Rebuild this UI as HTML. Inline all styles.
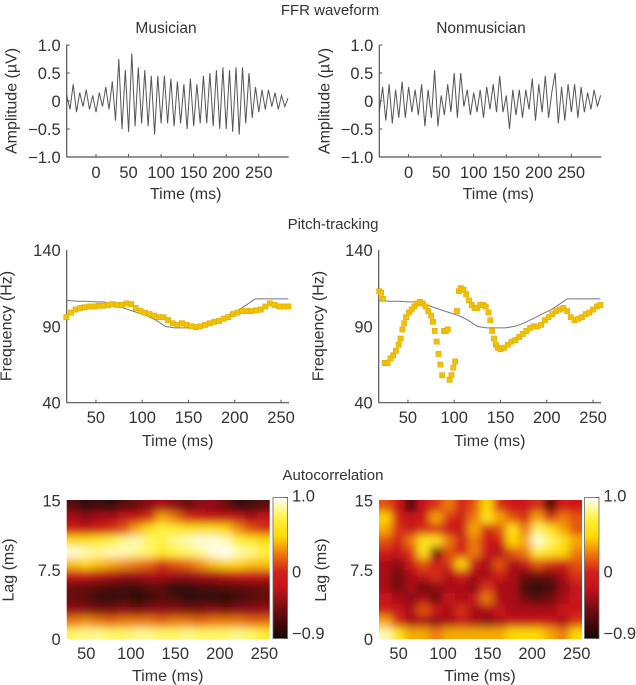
<!DOCTYPE html>
<html><head><meta charset="utf-8">
<style>
html,body{margin:0;padding:0;background:#fff;}
svg{display:block;font-family:"Liberation Sans",Arial,sans-serif;}
text{fill:#333;}
</style></head>
<body>
<svg id="fig" width="636" height="685" viewBox="0 0 636 685" xmlns="http://www.w3.org/2000/svg">
<defs>
<filter id="blur" x="-10%" y="-10%" width="120%" height="120%"><feGaussianBlur stdDeviation="4.2"/></filter>
<clipPath id="clipL"><rect x="66.7" y="500" width="203" height="139"/></clipPath>
<clipPath id="clipR"><rect x="379" y="500" width="203" height="139"/></clipPath>
<linearGradient id="cbar" x1="0" y1="1" x2="0" y2="0">
<stop offset="0" stop-color="#150605"/><stop offset="0.2" stop-color="#6e0c0e"/><stop offset="0.37" stop-color="#c8141a"/><stop offset="0.47" stop-color="#d0201a"/><stop offset="0.6" stop-color="#ee7a0c"/><stop offset="0.72" stop-color="#ffd800"/><stop offset="0.85" stop-color="#fff040"/><stop offset="1" stop-color="#ffffff"/>
</linearGradient>
</defs>
<text x="330" y="15" font-size="15" text-anchor="middle">FFR waveform</text>
<text x="166" y="33" font-size="15.5" text-anchor="middle">Musician</text>
<text x="481" y="33" font-size="15.5" text-anchor="middle">Nonmusician</text>
<text x="333" y="229" font-size="15" text-anchor="middle">Pitch-tracking</text>
<text x="333" y="480" font-size="15" text-anchor="middle">Autocorrelation</text>
<g id="root"></g>
</svg>
<script>
// ---- FFR waveform data (extrema every 5 ms starting at -45 ms)
const waveStart = -45, waveStep = 5;
const musicianWave = [0.1,-0.15,0.3,-0.2,0.15,-0.1,0.2,-0.15,0.1,-0.2,0.15,-0.1,0.25,-0.15,
 0.35,-0.35,0.75,-0.5,0.55,-0.55,0.85,-0.45,0.6,-0.4,0.55,-0.45,0.45,-0.6,0.45,-0.4,0.45,-0.4,0.4,-0.45,0.35,-0.4,0.3,-0.5,0.4,-0.45,0.3,-0.4,0.45,-0.4,0.5,-0.45,0.55,-0.5,0.6,-0.5,0.55,-0.55,0.6,-0.6,0.6,-0.4,0.5,-0.3,0.25,-0.2,0.2,-0.15,0.2,-0.1,0.15,-0.15,0.1,-0.1,0.05];
const nonmusicianWave = [-0.2,0.25,-0.35,0.3,-0.4,0.2,-0.3,0.35,-0.3,0.25,-0.2,0.2,-0.25,0.3,-0.45,0.2,-0.3,0.55,-0.45,0.1,-0.25,0.3,-0.2,0.5,-0.3,0.5,-0.1,0.2,-0.25,0.15,-0.2,0.2,-0.3,0.25,-0.15,0.3,-0.2,0.45,-0.2,0.1,-0.5,0.2,-0.25,0.2,-0.3,0.2,-0.15,0.4,-0.35,0.3,-0.2,0.45,-0.3,0.15,0.5,-0.4,0.25,-0.35,0.3,-0.2,0.3,-0.3,0.25,-0.2,0.15,-0.15,0.2,-0.1,0.1];
const waveTicksX = [0,50,100,150,200,250];
const waveTicksY = [1.0,0.5,0,-0.5,-1.0];
const waveTickLabelsY = ["1.0","0.5","0","\u22120.5","\u22121.0"];

// ---- Pitch tracking data
const stimTimes = [18,30,40,50,58,65,75,85,95,105,115,125,135,145,155,165,175,185,195,205,215,222,230,258];
const stimFreq  = [107,106.5,106.5,106,106,105,103,101,99,97,94,90,89,89,89,90,92,95,98,101,105,108,108,108];
const musTimes = [18,23,28,33,38,43,48,53,58,63,68,73,78,83,88,93,98,103,108,113,118,123,128,133,138,143,148,153,158,163,168,173,178,183,188,193,198,203,208,213,218,223,228,233,238,243,248,253,258];
const musFreq  = [96,99,101,102,102.5,103,103,103.5,103.5,104,104.5,104,104,105,104.5,102,100,99,98,97,96,96,94,92,91,92,91,90,89.5,90,91,92,93,93.5,95,96,98,99,100,100,100,100.5,101,103,105,104,103,103,103];
const nonTimes = [19,21,23,25,28,31,34,37,40,42,44,46,48,51,54,57,60,63,66,69,72,75,77,79,81,83,85,87,89,91,93,95,97,99,101,103,105,107,110,113,116,119,122,125,128,131,134,137,139,141,143,145,147,150,154,158,162,166,170,174,178,182,186,190,194,198,202,206,210,214,218,222,226,230,234,238,242,246,250,254,258];
const nonFreq  = [113,112,108,66,66,69,71,74,78,82,88,92,96,99,101,103,105,106,105,103,100,97,93,87,80,72,65,58,87,87,88,55,58,63,67,100,113,115,114,111,107,104,102,102,104,104,103,99,94,87,82,78,76,75,76,78,80,81,83,85,87,89,90,90,91,94,96,98,100,101,102,100,96,94,95,96,98,99,101,103,104];
const pitchTicksX = [50,100,150,200,250];
const pitchTicksY = [140,90,40];

// ---- Autocorrelation heatmaps (rows top lag=15 -> bottom lag=0, 16 time columns)
const acTicksX = [50,100,150,200,250];
const acTicksY = [15,7.5,0];
const acTickLabelsY = ["15","7.5","0"];
const cbarLabels = ["1.0","0","\u22120.9"];
const musAC = [
[-0.6,-0.8,-0.7,-0.8,-0.6,-0.5,-0.4,-0.3,-0.4,-0.5,-0.4,-0.4,-0.5,-0.8,-0.7,-0.6],
[-0.3,-0.4,-0.3,-0.3,-0.2,-0.1,0.1,0.4,0.3,0.1,0,-0.1,-0.1,-0.2,-0.3,-0.2],
[0.0,-0.1,0.0,0.1,0.2,0.4,0.6,0.75,0.7,0.6,0.6,0.6,0.5,0.35,0.2,0.1],
[0.55,0.55,0.65,0.75,0.85,0.9,0.8,0.75,0.85,0.9,0.95,0.95,0.9,0.75,0.65,0.55],
[0.95,0.9,0.85,0.9,0.9,0.85,0.8,0.65,0.75,0.8,0.85,0.95,1.0,0.9,0.85,0.75],
[0.45,0.5,0.45,0.4,0.35,0.3,0.25,0.1,0.2,0.25,0.35,0.45,0.5,0.5,0.45,0.45],
[-0.2,-0.2,-0.25,-0.3,-0.35,-0.35,-0.3,-0.3,-0.35,-0.35,-0.3,-0.3,-0.25,-0.2,-0.2,-0.2],
[-0.5,-0.55,-0.6,-0.65,-0.7,-0.7,-0.6,-0.6,-0.8,-0.75,-0.7,-0.65,-0.6,-0.6,-0.55,-0.5],
[-0.55,-0.6,-0.75,-0.8,-0.7,-0.85,-0.75,-0.6,-0.65,-0.8,-0.75,-0.8,-0.85,-0.7,-0.6,-0.55],
[-0.35,-0.4,-0.45,-0.45,-0.4,-0.45,-0.4,-0.4,-0.4,-0.45,-0.45,-0.4,-0.45,-0.4,-0.4,-0.35],
[0.3,0.35,0.3,0.25,0.3,0.3,0.3,0.25,0.3,0.3,0.25,0.3,0.3,0.3,0.25,0.25],
[0.8,0.85,0.85,0.8,0.8,0.85,0.85,0.8,0.8,0.85,0.8,0.8,0.8,0.85,0.8,0.7]];
const nonAC = [
[0.2,-0.1,-0.7,-0.2,0.1,0.3,0.0,0.2,0.5,0.1,-0.1,-0.2,0.1,-0.7,0.0,-0.1],
[0.5,0.0,-0.2,-0.1,0.4,0.1,0.0,0.3,0.6,0.4,0.2,0.1,0.4,0.1,0.3,0.2],
[0.4,0.1,-0.2,0.1,0.1,-0.2,-0.2,0.4,0.0,0.2,0.6,0.3,0.8,0.6,0.4,0.2],
[0.2,0.0,0.3,0.6,0.6,0.3,-0.1,0.3,-0.1,0.0,0.5,0.4,0.95,0.8,0.6,0.4],
[0.0,-0.2,0.1,0.6,-0.5,0.2,0.0,0.3,-0.2,-0.3,0.2,0.3,0.7,0.6,0.5,0.3],
[-0.3,-0.4,-0.1,0.2,-0.1,0.1,0.5,-0.2,-0.3,0.2,-0.3,-0.2,0.2,0.1,0.0,0.2],
[-0.3,-0.5,-0.3,-0.2,0.1,-0.3,0.0,-0.3,-0.3,0.0,-0.3,-0.5,-0.5,-0.5,-0.3,0.1],
[-0.3,-0.5,-0.3,-0.5,-0.4,-0.3,-0.3,-0.4,0.1,-0.3,-0.3,-0.7,-0.8,-0.7,-0.4,-0.2],
[-0.2,-0.3,-0.4,-0.3,-0.5,-0.2,-0.3,-0.2,0.3,-0.3,-0.3,-0.5,-0.6,-0.5,-0.3,-0.2],
[0.0,-0.2,-0.3,0.2,-0.1,-0.3,0.1,-0.3,-0.3,-0.2,-0.3,-0.3,-0.3,-0.3,-0.2,-0.1],
[0.4,0.1,-0.3,-0.3,-0.4,-0.3,-0.2,-0.3,-0.4,-0.3,-0.2,-0.2,-0.1,-0.2,-0.3,0.1],
[0.9,0.6,0.4,0.4,0.3,0.4,0.4,0.4,0.4,0.4,0.5,0.5,0.5,0.4,0.3,0.5]];

const NS = "http://www.w3.org/2000/svg";
const root = document.getElementById('root');
function mk(tag, attrs, parent){ const e=document.createElementNS(NS,tag); for(const k in attrs) e.setAttribute(k,attrs[k]); (parent||root).appendChild(e); return e; }
function lin(d0,d1,r0,r1){ return v => r0 + (v-d0)*(r1-r0)/(d1-d0); }
const TF = 16.5;

function axesLines(g, x0, x1, y0, y1){
  mk('line',{x1:x0,y1:y0,x2:x0,y2:y1,stroke:'#555','stroke-width':1.2},g);
  mk('line',{x1:x0,y1:y1,x2:x1,y2:y1,stroke:'#555','stroke-width':1.2},g);
}
function ylabel(g, x, y, txt, name){
  const t = mk('text',{x:x,y:y,'font-size':16,'text-anchor':'middle',transform:`rotate(-90 ${x} ${y})`},g);
  t.textContent = txt;
  
  
}
function xlabel(g, x, y, name){
  const t = mk('text',{x:x,y:y,'font-size':16,'text-anchor':'middle'},g);
  t.textContent = 'Time (ms)';
  
  
}

// ---- waveform panels
function wavePanel(x0, name, data){
  const g = mk('g',{});
  
  
  const zero = x0 + 29.3, pxms = 0.651;
  const X = t => zero + t*pxms;
  const Y = lin(1, -1, 45, 157);
  const x1 = X(296);
  axesLines(g, x0, x1, 45, 157);
  waveTicksY.forEach((v,i)=>{
    mk('line',{x1:x0,y1:Y(v),x2:x0+3,y2:Y(v),stroke:'#555'},g);
    const t = mk('text',{x:x0-6,y:Y(v)+6,'font-size':TF,'text-anchor':'end'},g);
    t.textContent = waveTickLabelsY[i];
    
    
  });
  waveTicksX.forEach(v=>{
    mk('line',{x1:X(v),y1:157,x2:X(v),y2:154,stroke:'#555'},g);
    const t = mk('text',{x:X(v),y:178,'font-size':TF,'text-anchor':'middle'},g);
    t.textContent = String(v);
    
    
  });
  const pts = data.map((v,i)=> X(waveStart + i*waveStep).toFixed(1)+','+Y(v).toFixed(1)).join(' ');
  const pl = mk('polyline',{points:pts,fill:'none',stroke:'#555','stroke-width':1},g);
  
  
  ylabel(g, x0-50, 101, 'Amplitude (\u00b5V)', 'y-axis-title');
  xlabel(g, (x0+x1)/2+8, 199, 'x-axis-title');
}
wavePanel(66.7, 'musician-waveform-panel', musicianWave);
wavePanel(379.3, 'nonmusician-waveform-panel', nonmusicianWave);

// ---- pitch panels
function pitchPanel(x0, name, rt, rf){
  const g = mk('g',{});
  
  
  const X = lin(18.4, 258.6, x0, x0+222.3);
  const Y = lin(140, 40, 250, 402.7);
  axesLines(g, x0, x0+222.3, 250, 402.7);
  pitchTicksY.forEach(v=>{
    const t = mk('text',{x:x0-6,y:Y(v)+6,'font-size':TF,'text-anchor':'end'},g);
    t.textContent = String(v);
    
    
  });
  pitchTicksX.forEach(v=>{
    mk('line',{x1:X(v),y1:402.7,x2:X(v),y2:399.7,stroke:'#555'},g);
    const t = mk('text',{x:X(v),y:423,'font-size':TF,'text-anchor':'middle'},g);
    t.textContent = String(v);
    
    
  });
  const pts = stimTimes.map((t,i)=> X(t).toFixed(1)+','+Y(stimFreq[i]).toFixed(1)).join(' ');
  const pl = mk('polyline',{points:pts,fill:'none',stroke:'#777','stroke-width':1},g);
  
  
  rt.forEach((t,i)=>{
    const r = mk('rect',{x:X(t)-2.6,y:Y(rf[i])-2.6,width:5.2,height:5.2,fill:'#f2c200',stroke:'#e0aa00','stroke-width':0.6},g);
    
    
  });
  ylabel(g, x0-55, 326, 'Frequency (Hz)', 'y-axis-title');
  xlabel(g, x0+111, 446, 'x-axis-title');
}
pitchPanel(66.7, 'musician-pitch-panel', musTimes, musFreq);
pitchPanel(378.7, 'nonmusician-pitch-panel', nonTimes, nonFreq);

// ---- heatmaps
const cstops = [[-0.9,[21,6,5]],[-0.5,[110,12,14]],[-0.2,[200,20,26]],[0.05,[210,30,24]],[0.3,[238,122,12]],[0.5,[255,216,0]],[0.75,[255,242,64]],[1,[255,255,255]]];
function cmap(v){
  if(v<=cstops[0][0]) return 'rgb('+cstops[0][1]+')';
  for(let i=1;i<cstops.length;i++){
    if(v<=cstops[i][0]){ const a=cstops[i-1], b=cstops[i]; const f=(v-a[0])/(b[0]-a[0]);
      return 'rgb('+a[1].map((c,k)=>Math.round(c+(b[1][k]-c)*f)).join(',')+')'; }
  }
  return 'rgb(255,255,255)';
}
function acPanel(x0, name, grid, clip, cbx){
  const g = mk('g',{});
  
  
  const W = 203, top = 500.5, bot = 639;
  const X = lin(28, 256, x0, x0+W);
  const Y = lin(15, 0, top, bot);
  const rows = grid.length, cols = grid[0].length;
  const cw = W/cols, ch = (bot-top)/rows;
  const cg = mk('g',{'clip-path':`url(#${clip})`},g);
  const bg = mk('g',{filter:'url(#blur)'},cg);
  grid.forEach((row,r)=>row.forEach((v,c)=>{
    let x = x0 + c*cw, y = top + r*ch, w = cw+0.6, h = ch+0.6;
    if(c===0){x-=14;w+=14;} if(c===cols-1){w+=14;}
    if(r===0){y-=14;h+=14;} if(r===rows-1){h+=14;}
    const cell = mk('rect',{x:x,y:y,width:w,height:h,fill:cmap(v)},bg);
    
    
  }));
  acTicksY.forEach((v,i)=>{
    const t = mk('text',{x:x0-6,y:Y(v)+6,'font-size':TF,'text-anchor':'end'},g);
    t.textContent = acTickLabelsY[i];
    
    
  });
  acTicksX.forEach(v=>{
    const t = mk('text',{x:X(v),y:659,'font-size':TF,'text-anchor':'middle'},g);
    t.textContent = String(v);
    
    
  });
  ylabel(g, x0-53, 570, 'Lag (ms)', 'y-axis-title');
  xlabel(g, x0+101, 681, 'x-axis-title');
  const cb = mk('rect',{x:cbx,y:497.5,width:14.5,height:141,fill:'url(#cbar)',stroke:'#666','stroke-width':0.8},g);
  
  
  const CY = lin(1, -0.9, 497.5, 638.5);
  [1,0,-0.9].forEach((v,i)=>{
    const yy = i===2 ? 633 : CY(v);
    mk('line',{x1:cbx+14.5,y1:CY(v),x2:cbx+11.5,y2:CY(v),stroke:'#555'},g);
    const t = mk('text',{x:cbx+19,y:yy+(i===0?4:6),'font-size':TF},g);
    t.textContent = cbarLabels[i];
    
    
  });
}
acPanel(66.7, 'musician-autocorrelation-panel', musAC, 'clipL', 273);
acPanel(379, 'nonmusician-autocorrelation-panel', nonAC, 'clipR', 584.5);
</script>
</body></html>
